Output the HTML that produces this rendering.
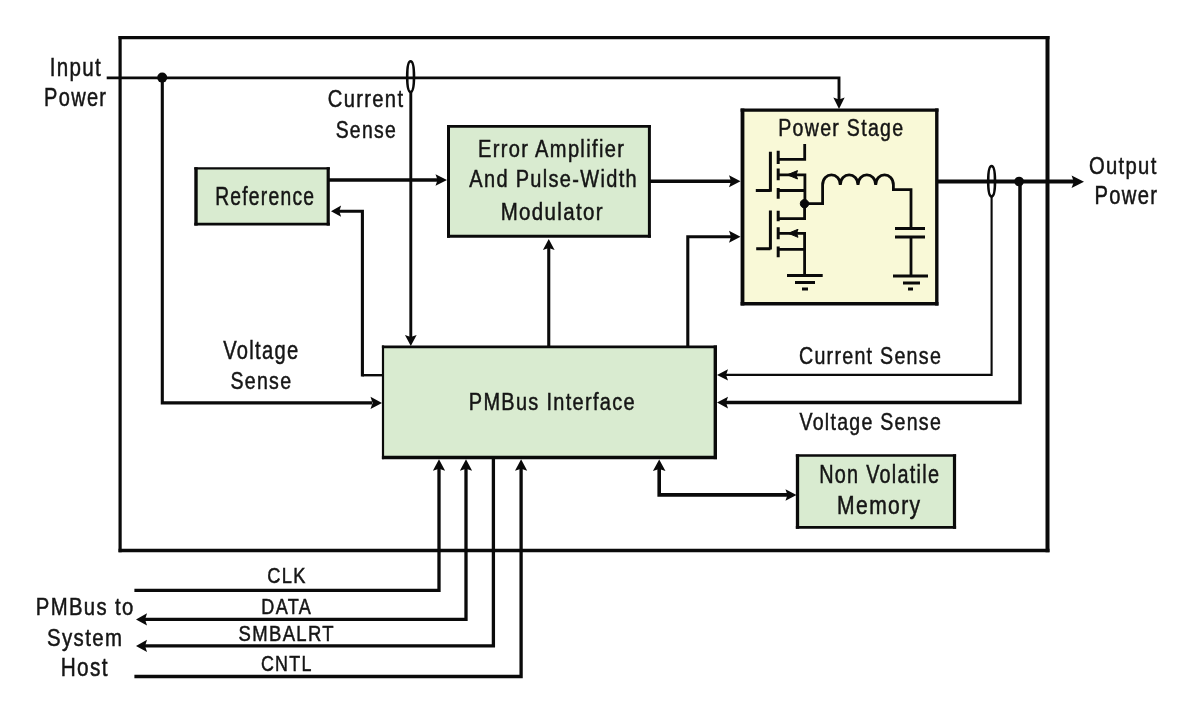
<!DOCTYPE html>
<html><head><meta charset="utf-8"><style>
html,body{margin:0;padding:0;background:#fff;}
svg{display:block;}
text{font-family:"Liberation Sans",sans-serif;fill:#151515;stroke:#151515;stroke-width:0.5px;}
svg{will-change:transform;}
</style></head><body>
<svg width="1200" height="714" viewBox="0 0 1200 714">
<rect width="1200" height="714" fill="#fff"/>
<g stroke="#0a0a0a" fill="none">
<rect x="120.10" y="37.60" width="927.40" height="512.80" fill="none" stroke="none"/>
<path d="M118.50,37.60 H1049.50" stroke-width="3.4"/>
<path d="M118.50,550.40 H1049.50" stroke-width="3.5"/>
<path d="M120.10,35.90 V552.15" stroke-width="3.2"/>
<path d="M1047.50,35.90 V552.15" stroke-width="4.0"/>
<rect x="196.00" y="168.30" width="132.20" height="55.90" fill="#d9ebd0" stroke="none"/>
<path d="M194.30,168.30 H329.80" stroke-width="2.2"/>
<path d="M194.30,224.20 H329.80" stroke-width="2.8"/>
<path d="M196.00,167.20 V225.60" stroke-width="3.4"/>
<path d="M328.20,167.20 V225.60" stroke-width="3.2"/>
<rect x="448.50" y="126.40" width="200.90" height="109.80" fill="#d9ebd0" stroke="none"/>
<path d="M447.00,126.40 H650.90" stroke-width="2.7"/>
<path d="M447.00,236.20 H650.90" stroke-width="3.0"/>
<path d="M448.50,125.05 V237.70" stroke-width="3.0"/>
<path d="M649.40,125.05 V237.70" stroke-width="3.0"/>
<rect x="742.50" y="110.10" width="194.30" height="193.70" fill="#f9f9d7" stroke="none"/>
<path d="M740.60,110.10 H938.50" stroke-width="3.4"/>
<path d="M740.60,303.80 H938.50" stroke-width="3.5"/>
<path d="M742.50,108.40 V305.55" stroke-width="3.8"/>
<path d="M936.80,108.40 V305.55" stroke-width="3.4"/>
<rect x="383.00" y="346.80" width="332.30" height="110.60" fill="#d9ebd0" stroke="none"/>
<path d="M381.90,346.80 H717.00" stroke-width="2.7"/>
<path d="M381.90,457.40 H717.00" stroke-width="3.5"/>
<path d="M383.00,345.45 V459.15" stroke-width="2.2"/>
<path d="M715.30,345.45 V459.15" stroke-width="3.4"/>
<rect x="797.50" y="455.50" width="157.00" height="71.90" fill="#d9ebd0" stroke="none"/>
<path d="M795.85,455.50 H956.10" stroke-width="2.5"/>
<path d="M795.85,527.40 H956.10" stroke-width="2.8"/>
<path d="M797.50,454.25 V528.80" stroke-width="3.3"/>
<path d="M954.50,454.25 V528.80" stroke-width="3.2"/>
</g>
<g stroke="#0a0a0a" fill="none" stroke-linecap="butt" stroke-linejoin="miter">
<polyline points="106.7,77.9 839,77.9 839,100" stroke-width="2.9"/>
<polyline points="162.3,78 162.3,402.9 372,402.9" stroke-width="3.1"/>
<polyline points="410.8,91.5 410.8,338" stroke-width="2.9"/>
<polyline points="329,180 438,180" stroke-width="3.3"/>
<polyline points="383,375.2 362.4,375.2" stroke-width="2.4"/>
<polyline points="362.4,376.5 362.4,211.2 338,211.2" stroke-width="3.1"/>
<polyline points="650,181.3 732,181.3" stroke-width="3.6"/>
<polyline points="548.75,346 548.75,246" stroke-width="3.1"/>
<polyline points="687.8,346 687.8,236.7 732,236.7" stroke-width="3.1"/>
<polyline points="938,181.5 1075,181.5" stroke-width="3.9"/>
<polyline points="991.6,196.5 991.6,374.9 725,374.9" stroke-width="2.1"/>
<polyline points="1020,181.5 1020,402.6 725,402.6" stroke-width="3.5"/>
<polyline points="439.0,468 439.0,590.3 134.4,590.3" stroke-width="3.3"/>
<polyline points="466.0,468 466.0,619.4 144,619.4" stroke-width="3.3"/>
<polyline points="493.4,459 493.4,645.9 144,645.9" stroke-width="3.3"/>
<polyline points="521.1,468 521.1,676.5 134.4,676.5" stroke-width="3.3"/>
<polyline points="659.2,468 659.2,494.9 788,494.9" stroke-width="3.6"/>
</g>
<g fill="#0a0a0a">
<polygon points="839.00,109.00 833.33,97.50 839.00,99.57 844.67,97.50"/>
<circle cx="162.2" cy="77.6" r="5"/>
<polygon points="382.00,402.90 370.50,396.87 372.57,402.90 370.50,408.93"/>
<path d="M410.6,61.2 C407.88,61.2 407.20,67.60 407.20,76.60 C407.20,85.60 407.88,92.0 410.6,92.0 C413.32,92.0 414.00,85.60 414.00,76.60 C414.00,67.60 413.32,61.2 410.6,61.2 Z" fill="none" stroke="#0a0a0a" stroke-width="2.6"/>
<polygon points="410.80,346.00 404.95,334.96 410.80,336.95 416.65,334.96"/>
<polygon points="447.00,180.00 435.50,174.15 437.57,180.00 435.50,185.85"/>
<polygon points="331.00,211.20 341.12,205.62 339.30,211.20 341.12,216.78"/>
<polygon points="740.50,181.30 729.00,175.36 731.07,181.30 729.00,187.24"/>
<polygon points="548.75,239.00 542.90,250.04 548.75,248.05 554.60,250.04"/>
<polygon points="740.50,236.70 729.00,230.76 731.07,236.70 729.00,242.64"/>
<polygon points="1084.00,181.70 1071.58,175.40 1073.82,181.70 1071.58,188.00"/>
<path d="M991.6,166.0 C988.88,166.0 988.20,172.30 988.20,181.30 C988.20,190.30 988.88,196.6 991.6,196.6 C994.32,196.6 995.00,190.30 995.00,181.30 C995.00,172.30 994.32,166.0 991.6,166.0 Z" fill="none" stroke="#0a0a0a" stroke-width="2.6"/>
<circle cx="1019.1" cy="181.5" r="4.8"/>
<polygon points="717.00,374.90 728.04,369.23 726.05,374.90 728.04,380.57"/>
<polygon points="717.00,402.60 728.04,396.75 726.05,402.60 728.04,408.45"/>
<polygon points="439.00,459.20 432.88,470.70 439.00,468.63 445.12,470.70"/>
<polygon points="466.00,459.20 459.88,470.70 466.00,468.63 472.12,470.70"/>
<polygon points="136.00,619.40 147.04,613.28 145.05,619.40 147.04,625.52"/>
<polygon points="136.00,645.90 147.04,639.78 145.05,645.90 147.04,652.02"/>
<polygon points="521.10,459.20 514.98,470.70 521.10,468.63 527.22,470.70"/>
<polygon points="659.20,459.50 652.90,471.00 659.20,468.93 665.50,471.00"/>
<polygon points="796.50,494.90 785.46,489.14 787.45,494.90 785.46,500.66"/>
</g>
<g stroke="#0a0a0a" fill="#0a0a0a">
<path d="M770.4,151.8 V191.7 M755.8,190.4 H770.4" stroke-width="3"/>
<path d="M778.2,150.8 V164 M778.2,168.4 V180.2 M778.2,188 V198.8" stroke-width="3"/>
<path d="M778.2,159.3 H804.7 V143.9 M778.2,174.8 H804.9 V203.5 M778.2,190.5 H804.9" stroke-width="2.8" fill="none"/>
<polygon points="787.3,174.8 797.5,170.6 796,174.8 797.5,179"/>
<path d="M770.4,210.5 V249.6 M756.2,248.8 H770.4" stroke-width="3"/>
<path d="M778.2,210.7 V221.3 M778.2,227.3 V239.3 M778.2,246.6 V257.3" stroke-width="3"/>
<path d="M778.2,218.6 H804.6 V203.5 M778.2,233.3 H804.6 V275.9 M778.2,249.3 H804.6" stroke-width="2.8" fill="none"/>
<polygon points="788.3,233.3 798,229.3 796.5,233.3 798,237.3"/>
<path d="M787,275.5 H822.7 M795,282.5 H815 M802,289 H808" stroke-width="2.8"/>
<circle cx="804.5" cy="203.7" r="4.2"/>
<path d="M805,203.7 H822.6 V185 C822.6,171.5 840.3,171.5 840.3,185 C840.3,171.5 858,171.5 858,185 C858,171.5 875.7,171.5 875.7,185 C875.7,171.5 893.4,171.5 893.4,185 V189.6 H911 V228" stroke-width="2.8" fill="none"/>
<path d="M895,228.5 H925 M895,237 H925 M911,237 V276" stroke-width="2.8"/>
<path d="M893,276 H928 M903,283 H920 M908,289 H913" stroke-width="2.8"/>
</g>
<g>
<text x="49.75" y="75.75" font-size="25.44" letter-spacing="1.6" textLength="52.24" lengthAdjust="spacingAndGlyphs">Input</text>
<text x="44.11" y="105.55" font-size="24.86" letter-spacing="1.6" textLength="63.16" lengthAdjust="spacingAndGlyphs">Power</text>
<text x="327.83" y="106.75" font-size="24.56" letter-spacing="1.6" textLength="76.49" lengthAdjust="spacingAndGlyphs">Current</text>
<text x="335.67" y="138.05" font-size="24.56" letter-spacing="1.6" textLength="61.31" lengthAdjust="spacingAndGlyphs">Sense</text>
<text x="215.17" y="204.95" font-size="24.86" letter-spacing="1.6" textLength="100.08" lengthAdjust="spacingAndGlyphs">Reference</text>
<text x="478.02" y="156.55" font-size="23.98" letter-spacing="1.6" textLength="147.19" lengthAdjust="spacingAndGlyphs">Error Amplifier</text>
<text x="469.31" y="187.25" font-size="23.98" letter-spacing="1.6" textLength="168.67" lengthAdjust="spacingAndGlyphs">And Pulse-Width</text>
<text x="500.67" y="219.55" font-size="23.98" letter-spacing="1.6" textLength="103.39" lengthAdjust="spacingAndGlyphs">Modulator</text>
<text x="778.24" y="136.25" font-size="24.42" letter-spacing="1.6" textLength="126.16" lengthAdjust="spacingAndGlyphs">Power Stage</text>
<text x="1088.89" y="173.75" font-size="24.42" letter-spacing="1.6" textLength="68.73" lengthAdjust="spacingAndGlyphs">Output</text>
<text x="1094.49" y="203.55" font-size="25.15" letter-spacing="1.6" textLength="63.68" lengthAdjust="spacingAndGlyphs">Power</text>
<text x="223.26" y="359.25" font-size="25.44" letter-spacing="1.6" textLength="76.12" lengthAdjust="spacingAndGlyphs">Voltage</text>
<text x="230.46" y="388.75" font-size="24.71" letter-spacing="1.6" textLength="61.83" lengthAdjust="spacingAndGlyphs">Sense</text>
<text x="798.95" y="363.95" font-size="24.71" letter-spacing="1.6" textLength="143.14" lengthAdjust="spacingAndGlyphs">Current Sense</text>
<text x="799.46" y="429.55" font-size="24.71" letter-spacing="1.6" textLength="142.60" lengthAdjust="spacingAndGlyphs">Voltage Sense</text>
<text x="468.81" y="410.35" font-size="24.42" letter-spacing="1.6" textLength="167.03" lengthAdjust="spacingAndGlyphs">PMBus Interface</text>
<text x="819.13" y="482.65" font-size="25.29" letter-spacing="1.6" textLength="121.14" lengthAdjust="spacingAndGlyphs">Non Volatile</text>
<text x="837.12" y="513.85" font-size="24.86" letter-spacing="1.6" textLength="84.33" lengthAdjust="spacingAndGlyphs">Memory</text>
<text x="267.22" y="583.35" font-size="21.37" letter-spacing="1.6" textLength="39.60" lengthAdjust="spacingAndGlyphs">CLK</text>
<text x="261.24" y="614.45" font-size="21.37" letter-spacing="1.6" textLength="50.93" lengthAdjust="spacingAndGlyphs">DATA</text>
<text x="238.61" y="640.95" font-size="22.24" letter-spacing="1.6" textLength="96.28" lengthAdjust="spacingAndGlyphs">SMBALRT</text>
<text x="260.94" y="670.95" font-size="22.24" letter-spacing="1.6" textLength="51.79" lengthAdjust="spacingAndGlyphs">CNTL</text>
<text x="35.78" y="614.75" font-size="24.13" letter-spacing="1.6" textLength="98.76" lengthAdjust="spacingAndGlyphs">PMBus to</text>
<text x="47.12" y="646.35" font-size="24.13" letter-spacing="1.6" textLength="76.12" lengthAdjust="spacingAndGlyphs">System</text>
<text x="60.74" y="675.95" font-size="25.15" letter-spacing="1.6" textLength="48.08" lengthAdjust="spacingAndGlyphs">Host</text>
</g>
</svg>
</body></html>
